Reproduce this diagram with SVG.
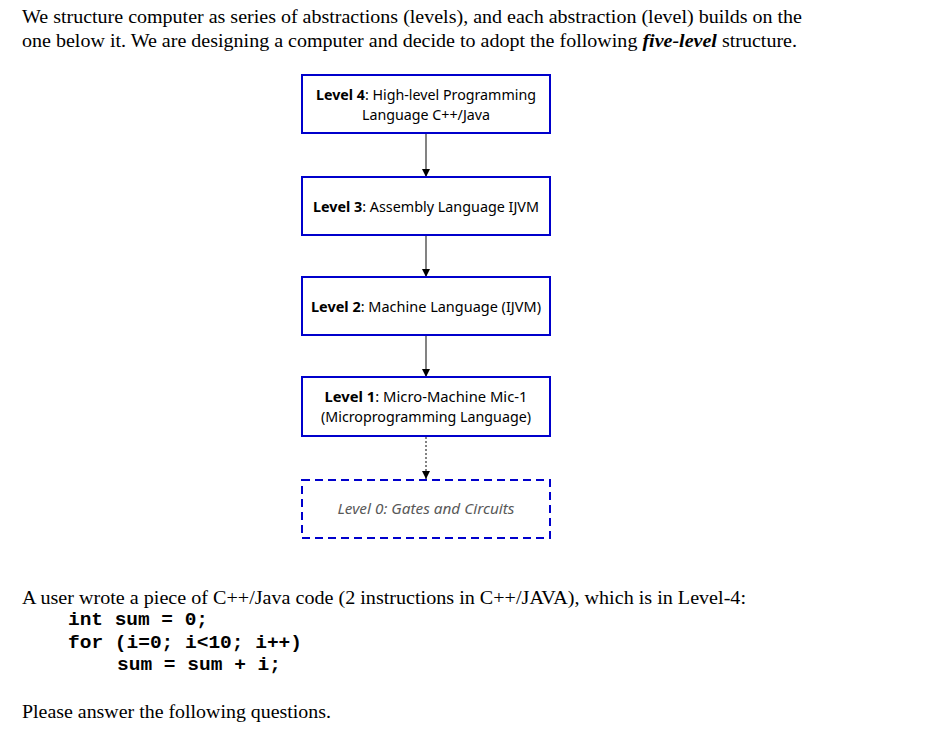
<svg xmlns="http://www.w3.org/2000/svg" width="927" height="731" viewBox="0 0 927 731">
<style>
.p{font-family:"Liberation Serif","Times New Roman",serif;font-size:19px;fill:#000}
.c{font-family:"Liberation Mono","Courier New",monospace;font-size:19px;font-weight:bold;fill:#000}
.bx{fill:#fff;stroke:#0000cc;stroke-width:2}
.bxd{fill:#fff;stroke:#0000cc;stroke-width:2;stroke-dasharray:8,5}
.t{font-family:"Noto Sans","Open Sans",sans-serif;font-size:14px;fill:#000;text-anchor:middle}
.t0{font-family:"Noto Sans","Open Sans",sans-serif;font-size:14px;fill:#595959;font-style:italic;text-anchor:middle}
.ln{stroke:#404040;stroke-width:1.3;fill:none}
.lnd{stroke:#404040;stroke-width:1.3;fill:none;stroke-dasharray:2,2}
</style>
<defs>
<marker id="ah" viewBox="0 0 10 10" refX="10" refY="5" markerWidth="8" markerHeight="8" markerUnits="userSpaceOnUse" orient="auto">
<path d="M0,0 L10,5 L0,10 z" fill="#000"/>
</marker>
</defs>
<rect width="927" height="731" fill="#fff"/>
<text class="p" x="22" y="23" textLength="780" lengthAdjust="spacingAndGlyphs">We structure computer as series of abstractions (levels), and each abstraction (level) builds on the</text>
<text class="p" x="22" y="47" textLength="775" lengthAdjust="spacingAndGlyphs">one below it. We are designing a computer and decide to adopt the following <tspan font-weight="bold" font-style="italic">five-level</tspan> structure.</text>
<g id="connectors">
<line class="ln" x1="426" y1="134" x2="426" y2="177" marker-end="url(#ah)"/>
<line class="ln" x1="426" y1="236" x2="426" y2="277" marker-end="url(#ah)"/>
<line class="ln" x1="426" y1="336" x2="426" y2="377" marker-end="url(#ah)"/>
<line class="lnd" x1="426" y1="437" x2="426" y2="479" marker-end="url(#ah)"/>
</g>
<g id="level4">
<rect class="bx" x="302" y="75" width="248" height="58"/>
<text class="t" x="426" y="100" textLength="220" lengthAdjust="spacingAndGlyphs"><tspan font-weight="bold">Level 4</tspan>: High-level Programming</text>
<text class="t" x="426" y="120" textLength="128" lengthAdjust="spacingAndGlyphs">Language C++/Java</text>
</g>
<g id="level3">
<rect class="bx" x="302" y="177" width="248" height="58"/>
<text class="t" x="426" y="212" textLength="226" lengthAdjust="spacingAndGlyphs"><tspan font-weight="bold">Level 3</tspan>: Assembly Language IJVM</text>
</g>
<g id="level2">
<rect class="bx" x="302" y="277" width="248" height="58"/>
<text class="t" x="426" y="312" textLength="230" lengthAdjust="spacingAndGlyphs"><tspan font-weight="bold">Level 2</tspan>: Machine Language (IJVM)</text>
</g>
<g id="level1">
<rect class="bx" x="302" y="377" width="248" height="59"/>
<text class="t" x="426" y="402" textLength="203" lengthAdjust="spacingAndGlyphs"><tspan font-weight="bold">Level 1</tspan>: Micro-Machine Mic-1</text>
<text class="t" x="426" y="422" textLength="210" lengthAdjust="spacingAndGlyphs">(Microprogramming Language)</text>
</g>
<g id="level0">
<rect class="bxd" x="302" y="480" width="248" height="58"/>
<text class="t0" x="426" y="514" textLength="177" lengthAdjust="spacingAndGlyphs">Level 0: Gates and Circuits</text>
</g>
<text class="p" x="22" y="604" textLength="724" lengthAdjust="spacingAndGlyphs">A user wrote a piece of C++/Java code (2 instructions in C++/JAVA), which is in Level-4:</text>
<text class="c" x="68" y="625" textLength="140" lengthAdjust="spacingAndGlyphs">int sum = 0;</text>
<text class="c" x="68" y="648" textLength="234" lengthAdjust="spacingAndGlyphs">for (i=0; i&lt;10; i++)</text>
<text class="c" x="117" y="670" textLength="164" lengthAdjust="spacingAndGlyphs">sum = sum + i;</text>
<text class="p" x="22" y="718" textLength="309" lengthAdjust="spacingAndGlyphs">Please answer the following questions.</text>
</svg>
